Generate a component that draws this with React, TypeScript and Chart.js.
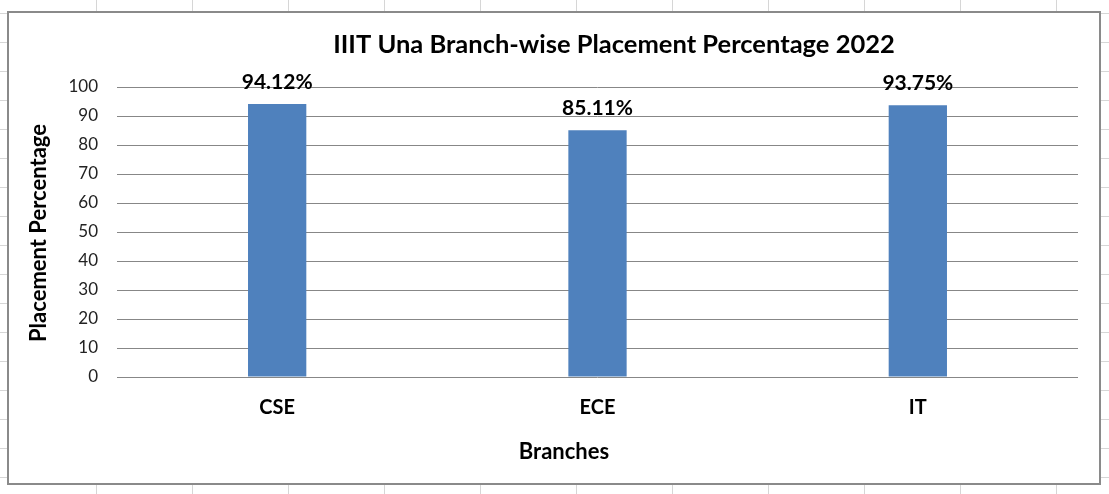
import React, { useEffect, useRef } from "react";
import { Chart, registerables } from "chart.js";

Chart.register(...registerables);

const categories: string[] = ["CSE", "ECE", "IT"];
const placementValues: number[] = [94.12, 85.11, 93.75];
const valueLabels: string[] = ["94.12%", "85.11%", "93.75%"];
const chartTitle = "IIIT Una Branch-wise Placement Percentage 2022";
const yAxisTitle = "Placement Percentage";
const xAxisTitle = "Branches";

const FONT = "Lato, 'Open Sans', sans-serif";

const decorPlugin = {
  id: "decor",
  beforeDraw(chart: any) {
    const ctx = chart.ctx;
    const W = chart.width;
    const H = chart.height;
    ctx.save();
    ctx.fillStyle = "#ffffff";
    ctx.fillRect(0, 0, W, H);
    // spreadsheet cell lines behind
    ctx.strokeStyle = "#d6d6d6";
    ctx.lineWidth = 1;
    for (let x = 96; x < W; x += 96) {
      ctx.beginPath();
      ctx.moveTo(x + 0.5, 0);
      ctx.lineTo(x + 0.5, H);
      ctx.stroke();
    }
    for (let y = 13; y < H; y += 29) {
      ctx.beginPath();
      ctx.moveTo(0, y + 0.5);
      ctx.lineTo(W, y + 0.5);
      ctx.stroke();
    }
    // chart box
    ctx.fillStyle = "#ffffff";
    ctx.fillRect(8, 12, 1092, 472);
    ctx.strokeStyle = "#8a8a8a";
    ctx.lineWidth = 2;
    ctx.strokeRect(8, 12, 1092, 472);
    // title
    ctx.fillStyle = "#000000";
    ctx.textAlign = "center";
    ctx.textBaseline = "middle";
    ctx.font = `bold 25.5px ${FONT}`;
    ctx.fillText(chartTitle, 614, 45);
    // axis titles
    ctx.font = `bold 22px ${FONT}`;
    ctx.fillText(xAxisTitle, 564, 452);
    ctx.translate(39, 233);
    ctx.rotate(-Math.PI / 2);
    ctx.fillText(yAxisTitle, 0, 0);
    ctx.restore();
  },
  afterDatasetsDraw(chart: any) {
    const ctx = chart.ctx;
    const meta = chart.getDatasetMeta(0);
    ctx.save();
    ctx.fillStyle = "#000000";
    ctx.textAlign = "center";
    ctx.textBaseline = "middle";
    ctx.font = `bold 21px ${FONT}`;
    meta.data.forEach((bar: any, i: number) => {
      ctx.fillText(valueLabels[i], bar.x, bar.y - 22);
    });
    ctx.restore();
  },
};

export default function App() {
  const canvasRef = useRef<HTMLCanvasElement | null>(null);

  useEffect(() => {
    if (!canvasRef.current) return;
    const chart = new Chart(canvasRef.current, {
      type: "bar",
      data: {
        labels: categories,
        datasets: [
          {
            label: "Placement Percentage",
            data: placementValues,
            backgroundColor: "#4F81BD",
            borderWidth: 0,
            categoryPercentage: 1,
            barPercentage: 0.182,
          },
        ],
      },
      options: {
        responsive: false,
        animation: false,
        layout: { padding: { left: 0, right: 31, top: 87, bottom: 0 } },
        plugins: {
          legend: { display: false },
          title: { display: false },
          tooltip: { enabled: false },
        },
        scales: {
          x: {
            grid: { display: false, drawTicks: false },
            border: { display: false },
            ticks: {
              color: "#000000",
              font: { family: FONT, size: 20, weight: "bold" },
              padding: 19,
            },
            afterFit(scale: any) {
              scale.height = 117;
            },
          },
          y: {
            min: 0,
            max: 100,
            grid: { color: "#878787", lineWidth: 1, drawTicks: false },
            border: { display: false },
            ticks: {
              stepSize: 10,
              color: "#222222",
              font: { family: FONT, size: 17 },
              padding: 19,
            },
            afterFit(scale: any) {
              scale.width = 117;
            },
          },
        },
      },
      plugins: [decorPlugin],
    });
    return () => chart.destroy();
  }, []);

  return (
    <div style={{ position: "fixed", left: 0, top: 0, width: 1109, height: 494 }}>
      <canvas ref={canvasRef} width={1109} height={494} />
    </div>
  );
}
